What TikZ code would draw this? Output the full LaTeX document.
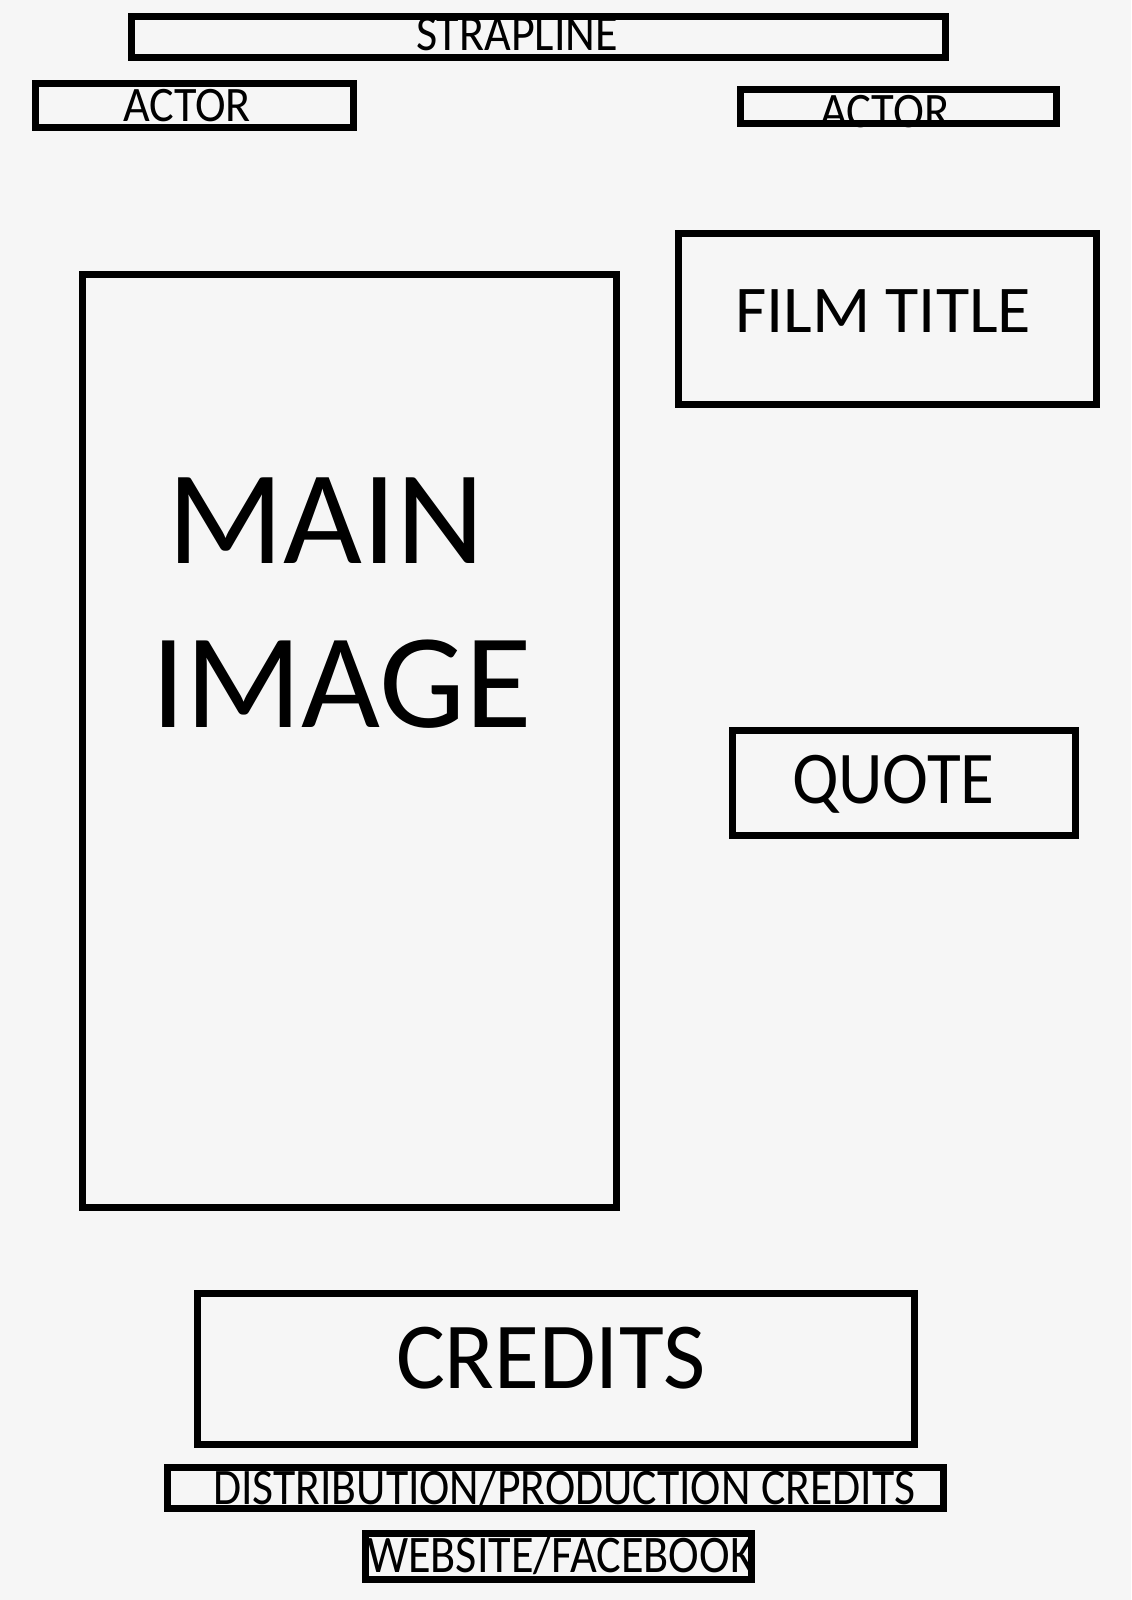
\documentclass[tikz,border=0pt]{standalone}
\usepackage{fontspec}
\setmainfont{Carlito}
\usepackage{graphicx}
\definecolor{paper}{RGB}{246,246,246}
\newcommand\fs[1]{\fontsize{#1pt}{#1pt}\selectfont}
\begin{document}
\begin{tikzpicture}[x=0.5pt,y=-0.5pt,
  box/.style={draw=black,line width=3.5pt,inner sep=0pt,fill=none},
  txt/.style={inner sep=0pt,outer sep=0pt,anchor=base west,text=black}]
\useasboundingbox[fill=paper] (0,0) rectangle (1131,1600);
% texts
\node[txt] (tstrap) at (416,51) {\fs{25.6}\scalebox{0.9}[1]{STRAPLINE}};
\node[txt] (tactl) at (123,122) {\fs{24.8}\scalebox{0.93}[1]{ACTOR}};
\node[txt] (tactr) at (820,127) {\fs{24.8}\scalebox{0.94}[1]{ACTOR}};
\node[txt] (ttitle) at (735,332) {\fs{33.4}\scalebox{1.02}[1]{FILM TITLE}};
\node[txt] (tmain) at (167,563) {\fs{66.8}\scalebox{1.02}[1]{MAIN}};
\node[txt] (timage) at (151,727) {\fs{67.5}\scalebox{1.01}[1]{IMAGE}};
\node[txt] (tquote) at (792,803) {\fs{37.2}\scalebox{0.93}[1]{QUOTE}};
\node[txt] (tcred) at (396,1388) {\fs{47.3}\scalebox{0.97}[1]{CREDITS}};
\node[txt] (tdist) at (213,1504) {\fs{25.6}\scalebox{0.892}[1]{DISTRIBUTION/PRODUCTION CREDITS}};
\node[txt] (tweb) at (367,1572) {\fs{26.4}\scalebox{0.875}[1]{WEBSITE/FACEBOOK}};
% boxes
\newcommand\pbox[5]{\node[box,minimum width={(#4-#2)*0.5pt},minimum height={(#5-#3)*0.5pt}] (#1) at ({(#2+#4)/2},{(#3+#5)/2}) {};}
\pbox{strap}{131}{17}{945}{58}
\pbox{actl}{35}{84}{353}{128}
\pbox{actr}{740}{90}{1056}{124}
\pbox{title}{678}{233}{1096}{404}
\pbox{main}{82}{274}{616}{1207}
\pbox{quote}{732}{730}{1075}{835}
\pbox{cred}{197}{1293}{914}{1444}
\pbox{dist}{167}{1467}{943}{1508}
\pbox{web}{365}{1533}{751}{1579}
\end{tikzpicture}
\end{document}
